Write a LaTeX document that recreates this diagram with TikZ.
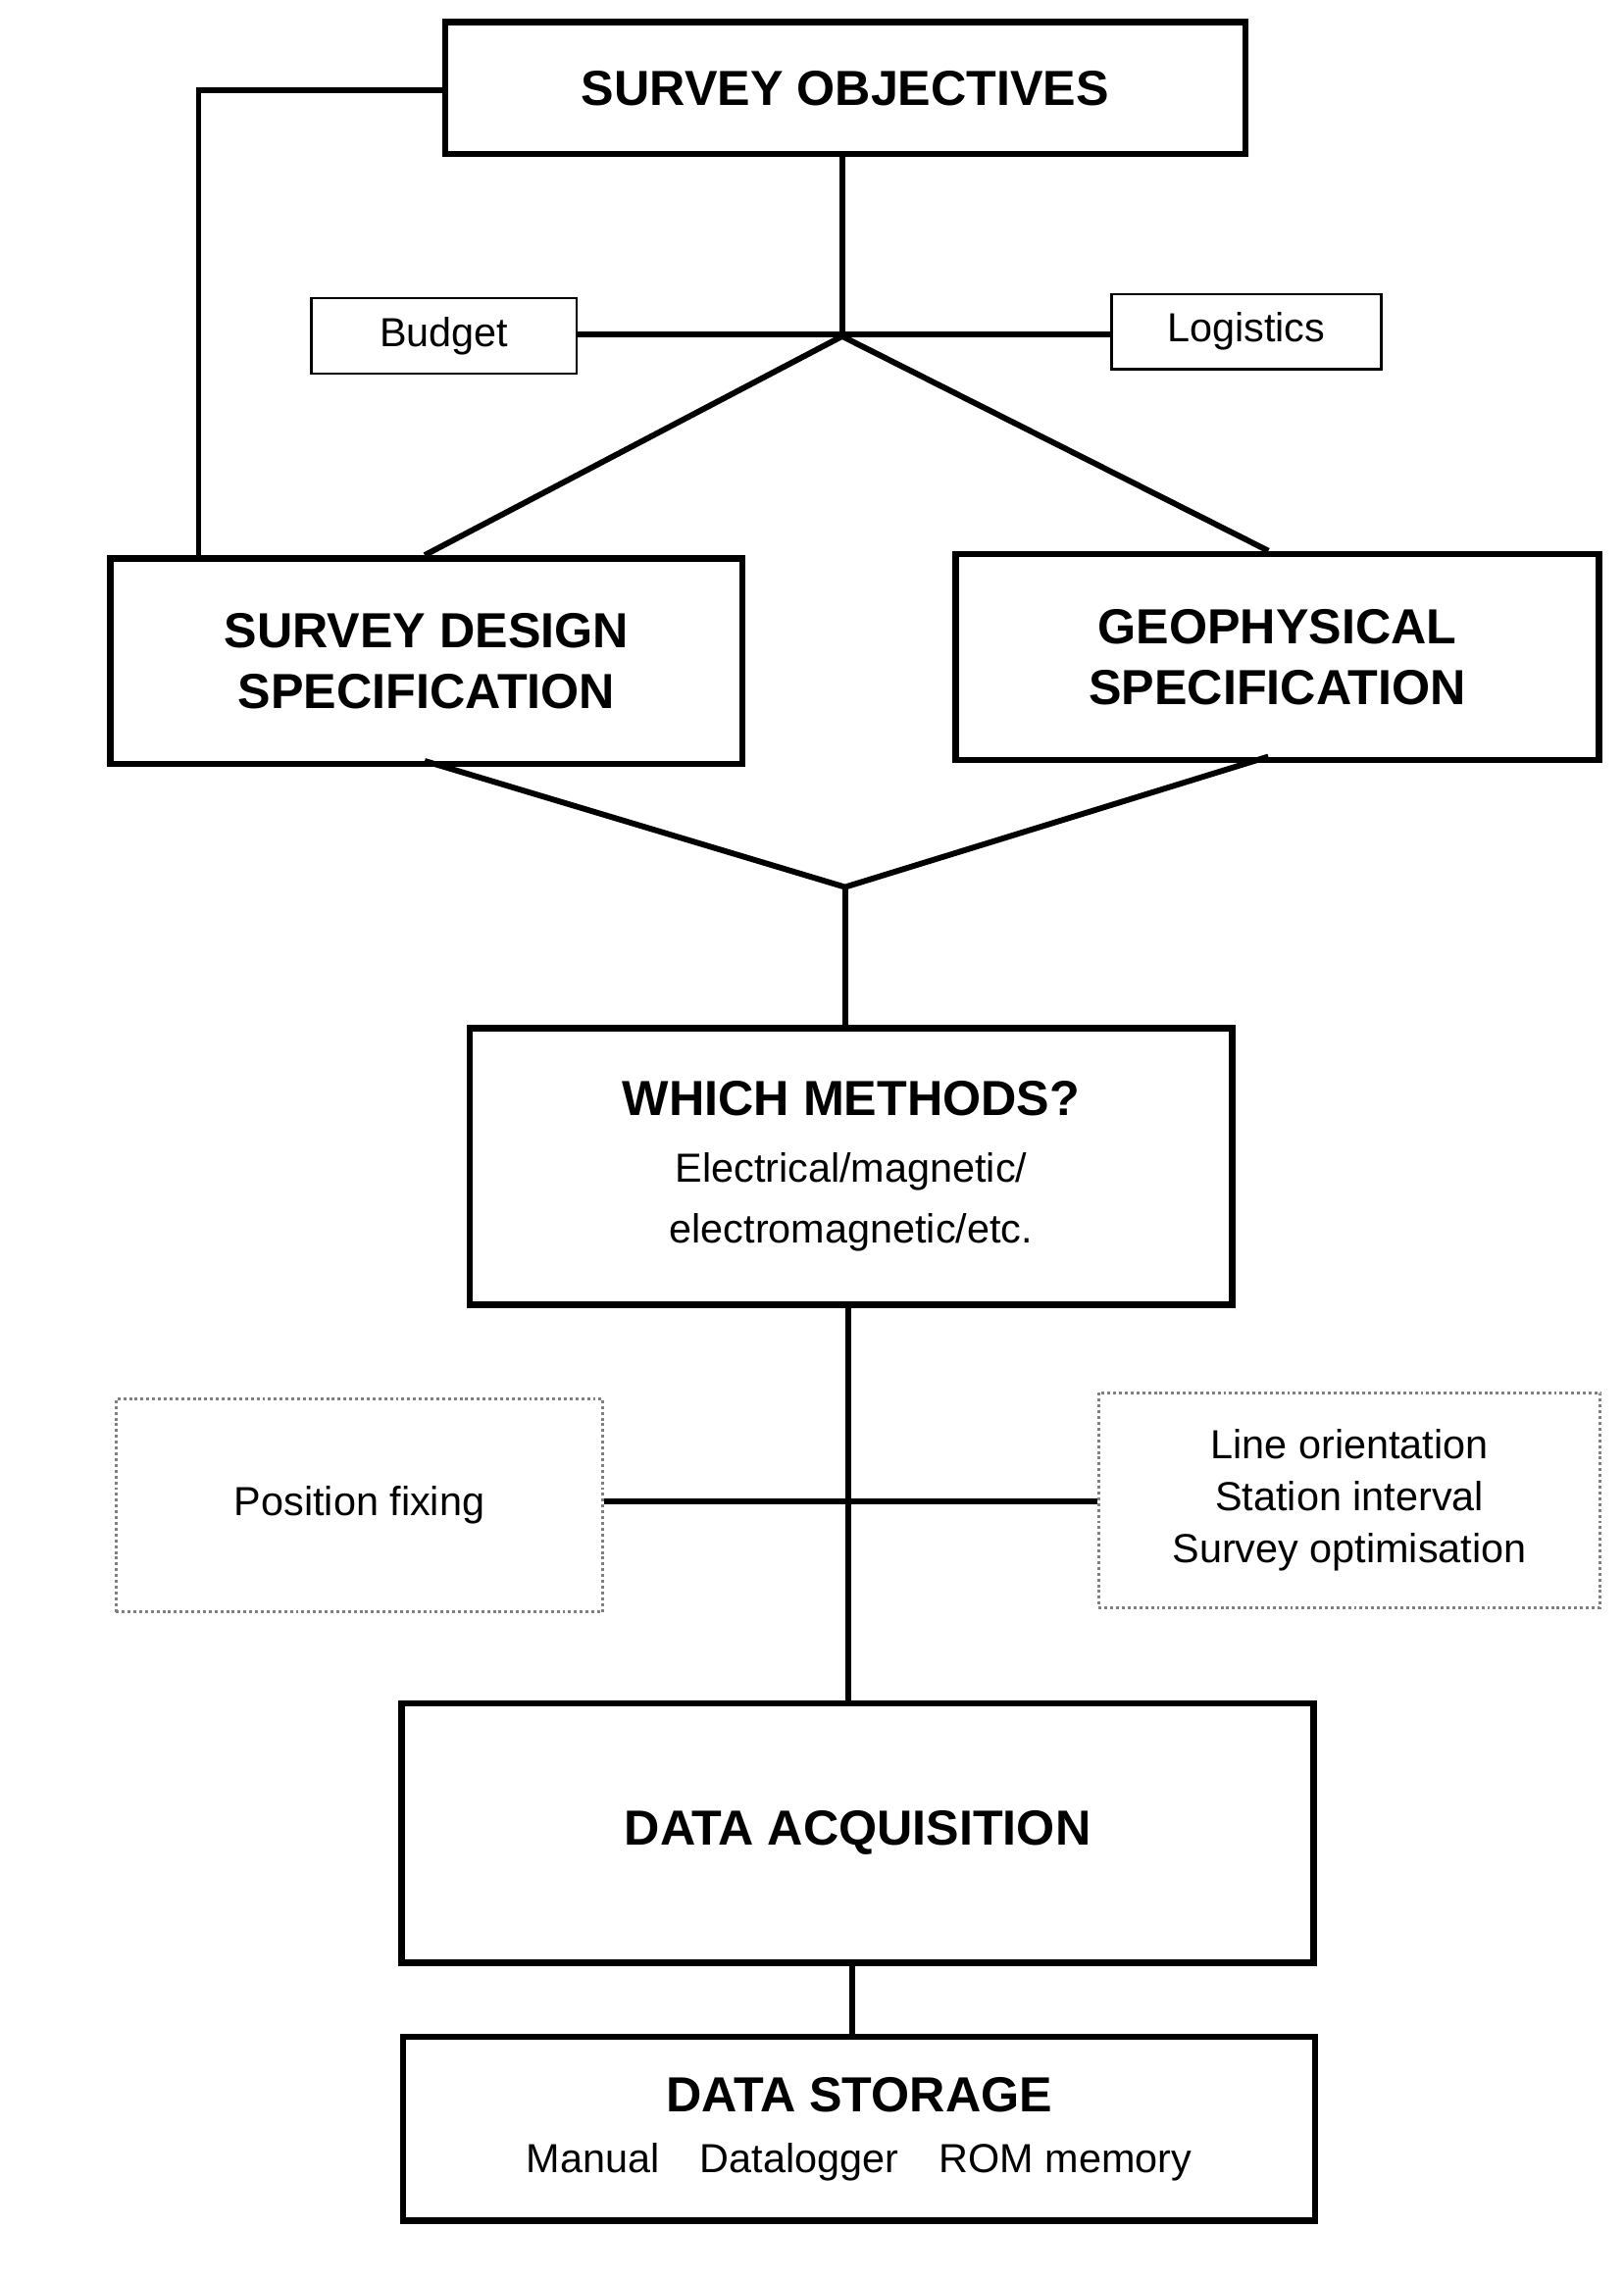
\documentclass[tikz,border=0pt]{standalone}
\usepackage{fontspec}
\setmainfont{Liberation Sans}
\begin{document}
\begin{tikzpicture}[x=0.5pt,y=-0.5pt,
 big/.style={draw,line width=2.2pt,font=\bfseries\fontsize{17}{21}\selectfont,align=center,inner sep=0,anchor=north west},
 small/.style={draw,line width=0.8pt,font=\fontsize{14}{18}\selectfont,align=center,inner sep=0,anchor=north west},
 dots/.style={draw=gray,line width=1pt,densely dotted,font=\fontsize{14}{18}\selectfont,align=center,inner sep=0,anchor=north west},
 ln/.style={line width=2pt}]
\useasboundingbox (0,0) rectangle (1120,1573);
\node[big,minimum width=552pt*0.5,minimum height=91pt*0.5] (so) at (305,13) {SURVEY OBJECTIVES};
\node[small,minimum width=183pt*0.5,minimum height=52pt*0.5] (bu) at (214,205) {Budget};
\node[small,minimum width=186pt*0.5,minimum height=52pt*0.5] (lo) at (766,202) {Logistics};
\node[big,minimum width=436pt*0.5,minimum height=142pt*0.5] (sds) at (74,383) {SURVEY DESIGN\\SPECIFICATION};
\node[big,minimum width=444pt*0.5,minimum height=142pt*0.5] (gs) at (657,380) {GEOPHYSICAL\\SPECIFICATION};
\node[big,minimum width=526pt*0.5,minimum height=191pt*0.5] (wm) at (322,707) {WHICH METHODS?\\[2pt]{\mdseries\fontsize{14}{19}\selectfont Electrical/magnetic/}\\{\mdseries\fontsize{14}{19}\selectfont electromagnetic/etc.}};
\node[dots,minimum width=336pt*0.5,minimum height=147pt*0.5] (pf) at (79,964) {Position fixing};
\node[dots,minimum width=346pt*0.5,minimum height=148pt*0.5] (lor) at (757,960) {Line orientation\\Station interval\\Survey optimisation};
\node[big,minimum width=629pt*0.5,minimum height=179pt*0.5] (da) at (275,1173) {DATA ACQUISITION};
\node[big,minimum width=629pt*0.5,minimum height=127pt*0.5] (ds) at (276,1403) {DATA STORAGE\\{\mdseries\fontsize{14}{19}\selectfont Manual\quad Datalogger\quad ROM memory}};
\coordinate (j1) at (581,232);
\coordinate (j2) at (583,612);
\coordinate (j3) at (585,1036);
\draw[ln] (so.west |- 0,62) -- (137,62) -- (137,383);
\draw[ln] (581,104) -- (j1);
\draw[ln] (bu.east |- 0,231) -- (lo.west |- 0,231);
\draw[ln] (293,383) -- (j1) -- (875,380);
\draw[ln] (293,525) -- (j2) -- (875,522);
\draw[ln] (j2) -- (583,707);
\draw[ln] (585,898) -- (585,1173);
\draw[ln] (pf.east |- j3) -- (lor.west |- j3);
\draw[ln] (588,1352) -- (588,1403);
\end{tikzpicture}
\end{document}
